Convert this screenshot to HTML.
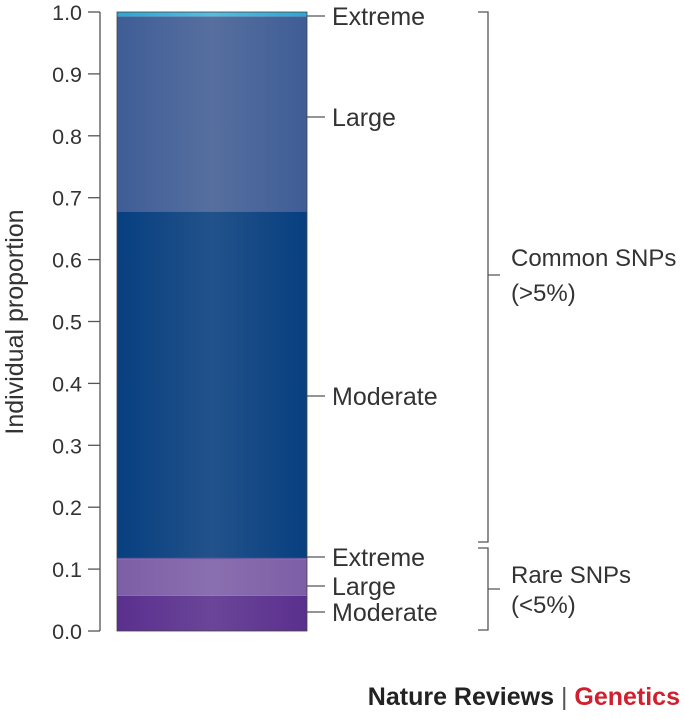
<!DOCTYPE html>
<html><head><meta charset="utf-8"><style>
body{margin:0;background:#fff;width:685px;height:715px;overflow:hidden}
svg text{font-family:"Liberation Sans",sans-serif}
</style></head><body>
<svg id="chart" width="685" height="715" xmlns="http://www.w3.org/2000/svg">
<defs>
<linearGradient id="gCL" x1="0" x2="1"><stop offset="0" stop-color="#3f5d96"/><stop offset="0.5" stop-color="#566f9f"/><stop offset="1" stop-color="#3f5d96"/></linearGradient>
<linearGradient id="gCM" x1="0" x2="1"><stop offset="0" stop-color="#073f80"/><stop offset="0.5" stop-color="#22528a"/><stop offset="1" stop-color="#073f80"/></linearGradient>
<linearGradient id="gRL" x1="0" x2="1"><stop offset="0" stop-color="#7c5ea6"/><stop offset="0.5" stop-color="#8a6fb0"/><stop offset="1" stop-color="#7c5ea6"/></linearGradient>
<linearGradient id="gRM" x1="0" x2="1"><stop offset="0" stop-color="#5a2f8e"/><stop offset="0.5" stop-color="#6a4598"/><stop offset="1" stop-color="#5a2f8e"/></linearGradient>
<linearGradient id="gCE" x1="0" x2="1"><stop offset="0" stop-color="#2aa7d3"/><stop offset="0.5" stop-color="#55bde0"/><stop offset="1" stop-color="#2aa7d3"/></linearGradient>
</defs>
<g id="axis"></g><g id="bars"></g><g id="labels"></g>
<text transform="translate(23,322) rotate(-90)" text-anchor="middle" font-size="25" fill="#333">Individual proportion</text>
<g stroke="#555" stroke-width="1.3" fill="none">
<path d="M478,12 H488 V542 H478 M488,275 H500"/></g>
<text x="511" y="266" font-size="24" fill="#333">Common SNPs</text>
<text x="511" y="301" font-size="24" fill="#333">(&gt;5%)</text>
<g stroke="#555" stroke-width="1.3" fill="none">
<path d="M478,548 H488 V630 H478 M488,589 H500"/></g>
<text x="511" y="583" font-size="24" fill="#333">Rare SNPs</text>
<text x="511" y="613" font-size="24" fill="#333">(&lt;5%)</text>
<text x="680" y="705" text-anchor="end" font-size="25" font-weight="bold" fill="#222">Nature Reviews <tspan font-weight="normal" fill="#555">|</tspan> <tspan fill="#d0202e">Genetics</tspan></text>
</svg>
<script>
const segNames=["rare-moderate","rare-large","rare-extreme","common-moderate","common-large","common-extreme"];
const segValues=[0.057,0.058,0.003,0.56,0.315,0.007];
const segLabels=["Moderate","Large","Extreme","Moderate","Large","Extreme"];
const tickLabels=["0.0","0.1","0.2","0.3","0.4","0.5","0.6","0.7","0.8","0.9","1.0"];
const fills=["url(#gRM)","url(#gRL)","#6a5aa0","url(#gCM)","url(#gCL)","url(#gCE)"];
const labelY=[612,586,557,396,117,16];
const NS="http://www.w3.org/2000/svg";
const y=v=>631-619*v;
const X0=117,X1=307;
function mk(t,a,p){const e=document.createElementNS(NS,t);for(const k in a)e.setAttribute(k,a[k]);p.appendChild(e);return e;}
const ax=document.getElementById('axis');
const al=mk('line',{x1:100,x2:100,y1:y(0),y2:y(1),stroke:'#555','stroke-width':1.3},ax);


tickLabels.forEach(t=>{const v=parseFloat(t);
const l=mk('line',{x1:88,x2:100,y1:y(v),y2:y(v),stroke:'#555','stroke-width':1.3},ax);


const tx=mk('text',{x:82,y:y(v)+8,'text-anchor':'end','font-size':21.5,fill:'#333'},ax);tx.textContent=t;

});
const bars=document.getElementById('bars'),lab=document.getElementById('labels');
let cum=0;
segValues.forEach((v,i)=>{
const r=mk('rect',{x:X0,width:X1-X0,y:y(cum+v),height:y(cum)-y(cum+v),fill:fills[i]},bars);


cum+=v;
const ly=labelY[i];
const ln=mk('line',{x1:X1,x2:325,y1:ly,y2:ly,stroke:'#555','stroke-width':1.3},lab);


const t=mk('text',{x:332,y:ly+9,'font-size':25,fill:'#333'},lab);t.textContent=segLabels[i];


});
const bo=mk('rect',{x:X0,y:y(cum),width:X1-X0,height:y(0)-y(cum),fill:'none',stroke:'#444','stroke-width':0.8},bars);


</script>
</body></html>
